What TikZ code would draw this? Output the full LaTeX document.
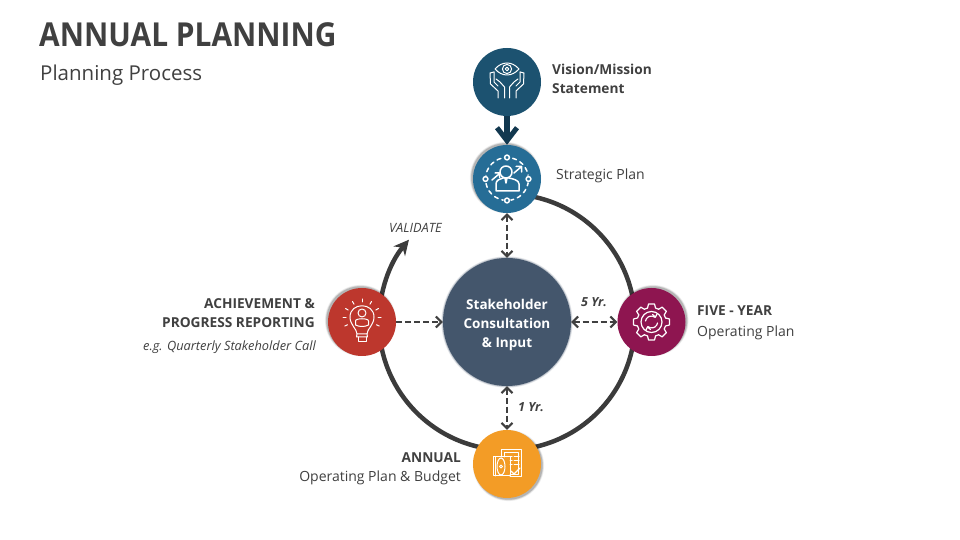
\documentclass[tikz,border=0pt]{standalone}
\usepackage{fontspec}
\setmainfont{Open Sans}
\usetikzlibrary{arrows.meta}
\definecolor{txt}{HTML}{404040}
\definecolor{ringc}{HTML}{3B3B3B}
\definecolor{cVision}{HTML}{1C5270}
\definecolor{cStrategic}{HTML}{266D96}
\definecolor{cAchieve}{HTML}{BD372D}
\definecolor{cFive}{HTML}{8E1550}
\definecolor{cAnnual}{HTML}{F39C26}
\definecolor{cCenter}{HTML}{44566C}
\definecolor{cThick}{HTML}{12384F}
\tikzset{
  x=1pt,y=1pt,
  disc/.style={circle,inner sep=0pt,minimum size=68pt},
  lbl/.style={inner sep=0pt,text=txt,font=\fontsize{14}{19}\selectfont},
  lblb/.style={lbl,font=\fontsize{13.7}{19}\selectfont\bfseries},
  lbli/.style={lbl,font=\fontsize{12.8}{15}\selectfont\itshape},
  yrs/.style={lbl,font=\fontsize{12.5}{15}\selectfont\bfseries\itshape},
  dashlink/.style={draw=txt,line width=2pt,dash pattern=on 6pt off 3pt},
  biarrow/.style={dashlink,{Straight Barb[length=5.5pt,width=11pt,line width=2pt]}-{Straight Barb[length=5.5pt,width=11pt,line width=2pt]}},
  oneway/.style={dashlink,-{Straight Barb[length=5.5pt,width=11pt,line width=2pt]}},
  ringline/.style={draw=ringc,line width=4.5pt,-{Stealth[length=15pt,width=15pt]}},
  thick link/.style={draw=cThick,line width=5.5pt,-{Straight Barb[length=13pt,width=20pt,line width=5pt]}},
  ic/.style={draw=white,line width=1pt,line cap=round,line join=round,fill=none},
}
% soft shadow: #1,#2 centre, #3 radius
\newcommand{\softshadow}[3]{%
  \fill[black,opacity=.06] (#1,#2) circle[radius=#3+1.6];
  \fill[black,opacity=.10] (#1,#2) circle[radius=#3+0.9];
  \fill[black,opacity=.16] (#1,#2) circle[radius=#3+0.2];
}
\begin{document}
\begin{tikzpicture}
\useasboundingbox (0,0) rectangle (960,540);
\fill[white] (0,0) rectangle (960,540);

% title
\node[anchor=west,inner sep=0pt,text=txt,font=\fontsize{33}{36}\selectfont\bfseries,xscale=0.905] (title) at (39,505) {ANNUAL PLANNING};
\node[anchor=west,inner sep=0pt,text=txt,font=\fontsize{20.5}{24}\selectfont] (subtitle) at (40,464.5) {Planning Process};

% ring
\coordinate (ringtop) at (507,346);
\draw[ringline] (ringtop) arc[start angle=90,end angle=-220,radius=128];

% shadows, offset as in the reference
\softshadow{505.5}{362.5}{34}
\softshadow{360.5}{219.5}{34}
\softshadow{653}{219.5}{34}
\softshadow{508.5}{74.5}{34}
\fill[cCenter,opacity=.15] (507,218) circle[radius=65.6];
\fill[cCenter,opacity=.25] (507,218) circle[radius=64.8];

% discs
\node[disc,fill=cVision] (vision) at (507,458) {};
\node[disc,fill=cStrategic] (strategic) at (507,361) {};
\node[disc,fill=cAchieve] (achieve) at (362,218) {};
\node[disc,fill=cFive] (five) at (651.5,218) {};
\node[disc,fill=cAnnual] (annual) at (507,76) {};
\node[circle,inner sep=0pt,minimum size=128pt,fill=cCenter] (center) at (507,218) {};
\node[inner sep=0pt,text=white,align=center,font=\fontsize{13.5}{19}\selectfont\bfseries] (centertext) at (507,215.5) {Stakeholder\\Consultation\\\& Input};

% connectors
\draw[thick link] (vision.south) -- (strategic.north);
\draw[biarrow] (strategic.south) -- (center.north);
\draw[oneway] (achieve.east) -- (center.west);
\draw[biarrow] (center.east) -- (five.west);
\draw[biarrow] (center.south) -- (annual.north);

% labels
\node[lblb,anchor=west,align=left] (l1) at (552,461) {Vision/Mission\\Statement};
\node[lbl,anchor=west] (l2) at (556,364.5) {Strategic Plan};
\node[lbli,anchor=west] (l3) at (389,312.5) {VALIDATE};
\node[lblb,anchor=east,align=right] (l4) at (315,226.5) {ACHIEVEMENT \&\\PROGRESS REPORTING};
\node[lbli,anchor=east] (l5) at (316,193) {e.g. Quarterly Stakeholder Call};
\node[yrs,anchor=west] (l6) at (581,237.5) {5 Yr.};
\node[lblb,anchor=west] (l7) at (697,229) {FIVE - YEAR};
\node[lbl,anchor=west] (l8) at (697,207.5) {Operating Plan};
\node[yrs,anchor=west] (l9) at (518,132.5) {1 Yr.};
\node[lblb,anchor=east] (l10) at (461,82) {ANNUAL};
\node[lbl,anchor=east] (l11) at (461,62.5) {Operating Plan \& Budget};

% icon: eye and hands
\begin{scope}[shift={(507,458)}]
  \draw[ic] (-12,13) .. controls (-5,21) and (5,21) .. (12,13) .. controls (5,5) and (-5,5) .. (-12,13);
  \draw[ic] (0,13) circle[radius=4.6];
  \draw[ic] (0,13) circle[radius=1.8];
  \foreach \s in {1,-1}{
    \begin{scope}[xscale=\s]
      \draw[ic] (-13,10) -- (-17,9) -- (-16.5,-2) -- (-9,-9) -- (-9,-16);
      \draw[ic] (-13,10) -- (-13,0) -- (-9,-4);
      \draw[ic] (-11,3) -- (-7,0) -- (-2.5,-5) -- (-2.5,-16);
    \end{scope}
  }
\end{scope}

% icon: person in dotted ring
\begin{scope}[shift={(507,361)}]
  \draw[ic,line width=1.5pt,dash pattern=on 4pt off 4pt] (0,0) circle[radius=21.5];
  \foreach \p in {(0,21.5),(-21.5,0),(21.5,0),(0,-21.5)}{
    \fill[cStrategic] \p circle[radius=3.6];
    \draw[ic,line width=1.5pt] \p circle[radius=2.4];
  }
  \draw[ic,line width=1.5pt] (-1,7) circle[radius=6];
  \draw[ic,line width=1.5pt] (-11,-12) -- (-11,-5) .. controls (-11,-1) and (-7,0) .. (-4,1) -- (2,1) .. controls (6,0) and (12,-1) .. (12,-5) -- (12,-12) -- cycle;
  \draw[ic,line width=1.5pt] (-2,1) -- (-1,-4) -- (0,1);
  \draw[ic,line width=1.5pt] (7,6) -- (14,12) (9,12.5) -- (14.5,12.5) -- (14.5,7);
  \draw[ic,line width=1.5pt] (-15,-1) -- (-8,5) (-12,6) -- (-7.5,6) -- (-7.5,1.5);
\end{scope}

% icon: bulb with person
\begin{scope}[shift={(362,218)}]
  \draw[ic] (-5,-12) .. controls (-5,-7) and (-12,-3) .. (-12,5) .. controls (-12,20) and (12,20) .. (12,5) .. controls (12,-3) and (5,-7) .. (5,-12) -- cycle;
  \draw[ic] (0,9) circle[radius=4];
  \draw[ic] (-6.5,-3) -- (-6.5,1) .. controls (-6.5,4) and (6.5,4) .. (6.5,1) -- (6.5,-3) .. controls (3,-5) and (-3,-5) .. (-6.5,-3);
  \draw[ic] (-5,-12) -- (-5.5,-15) -- (5.5,-15) -- (5,-12);
  \draw[ic] (-4,-15) -- (-4,-20) -- (4,-20) -- (4,-15);
  \foreach \a in {0,30,...,180}{\draw[ic] (\a:16)++(0,4) -- ++(\a:3);}
  \foreach \a in {-25,205}{\draw[ic] (\a:16)++(0,4) -- ++(\a:3);}
\end{scope}

% icon: gear with arrows
\begin{scope}[shift={(651.5,218)}]
  \foreach \a in {0,45,...,315}{
    \draw[ic,line width=1.2pt,rotate=\a] (-4,14) -- (-3,18) -- (3,18) -- (4,14) -- (7.07,12.73);
  }
  \draw[ic,line width=1.2pt] (0,0) circle[radius=10.5];
  \draw[ic,line width=1.2pt] (-6,1) arc[start angle=170,end angle=50,radius=6];
  \draw[ic,line width=1.2pt] (6,-1) arc[start angle=-10,end angle=-130,radius=6];
  \draw[ic,line width=1.2pt] (1,7.5) -- (4,5) -- (5.5,8);
  \draw[ic,line width=1.2pt] (-1,-7.5) -- (-4,-5) -- (-5.5,-8);
\end{scope}

% icon: document and banknote
\begin{scope}[shift={(507,76)}]
  \draw[ic] (-6,7) -- (-6,14) -- (14,14) -- (14,-13) -- (3,-13);
  \draw[ic] (-3,7) -- (-3,11.5) -- (11.5,11.5) -- (11.5,-10.5) -- (3,-10.5);
  \draw[ic] (-14,7) -- (3,7) -- (3,-12) -- (-14,-12) -- cycle;
  \draw[ic] (-11.5,7) -- (-11.5,-12);
  \draw[ic] (-6,-2.5) ellipse[x radius=4,y radius=8.5];
  \draw[ic] (-6,-2.5) circle[radius=1.5];
  \foreach \y in {7,3,-1}{\draw[ic] (3,\y) -- (5,\y) (7,\y) -- (12,\y);}
  \draw[ic,line width=1.3pt] (4,-7) -- (7,-10) -- (13,-4);
\end{scope}
\end{tikzpicture}
\end{document}
